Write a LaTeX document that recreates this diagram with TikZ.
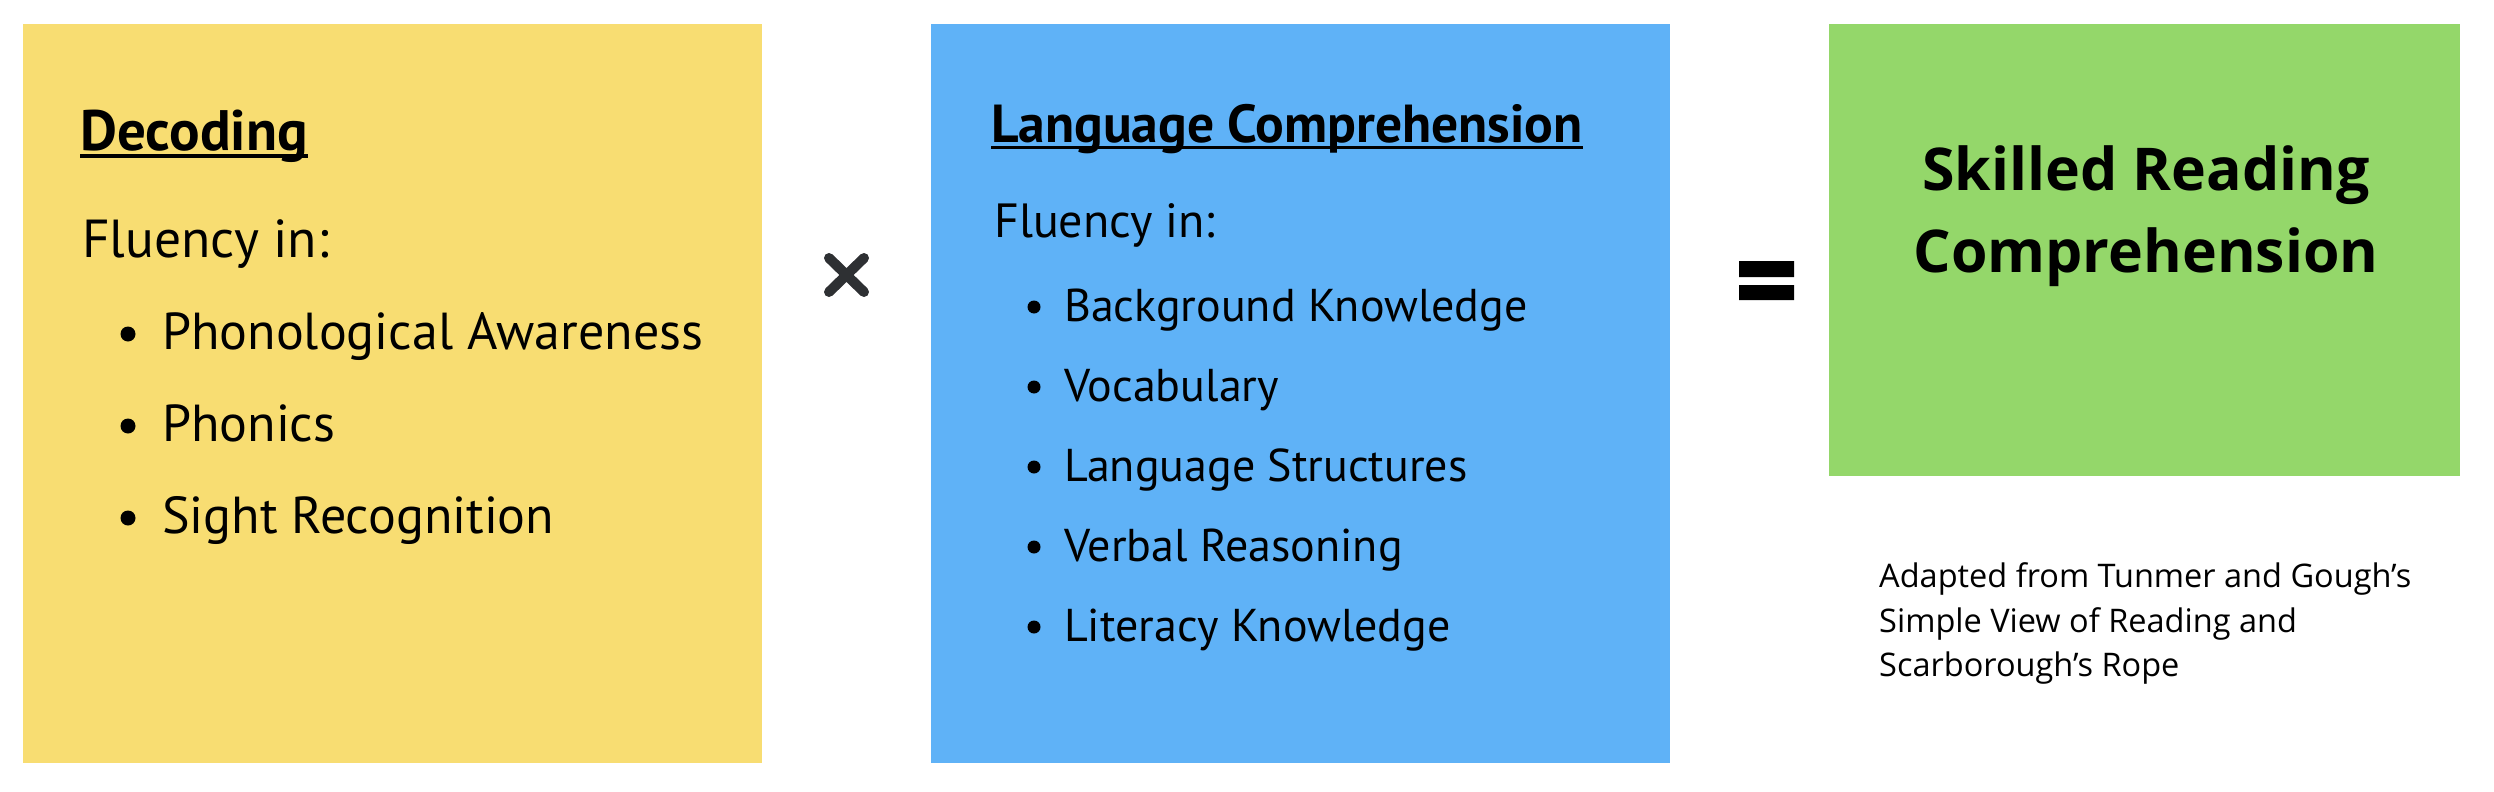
\documentclass[tikz,border=0pt]{standalone}
\usepackage{fontspec}
\setmainfont{PT Sans}
\newfontfamily\plainsans{Open Sans}

\definecolor{decYellow}{HTML}{F8DD72}
\definecolor{langBlue}{HTML}{5FB2F7}
\definecolor{readGreen}{HTML}{94D76A}
\definecolor{signGray}{HTML}{2E3033}

\begin{document}
\begin{tikzpicture}[x=1pt,y=-1pt,
    panel/.style={inner sep=0pt, anchor=north west, minimum width=739pt, minimum height=739pt},
    txt/.style={inner sep=0pt, anchor=base west}]
    \useasboundingbox (0,0) rectangle (2494,792);

    % the three boxes
    \node[panel, fill=decYellow] (decoding) at (23,24) {};
    \node[panel, fill=langBlue] (language) at (931,24) {};
    \node[panel, fill=readGreen, minimum width=631pt, minimum height=452pt] (reading) at (1829,24) {};

    % decoding
    \node[txt, font=\bfseries\fontsize{57}{60}\selectfont] (decHead) at (80,150) {Decoding};
    \draw[line width=4.5pt] ([yshift=-6pt]decHead.base west) -- ([yshift=-6pt]decHead.base east);
    \node[txt, font=\fontsize{53.5}{60}\selectfont] (decFluency) at (82,257) {Fluency in:};
    \foreach \item [count=\i] in {Phonological Awareness, Phonics, Sight Recognition}{
      \fill (128,{257+92*\i-15}) circle (7.5);
      \node[txt, font=\fontsize{52}{60}\selectfont] (dec\i) at (162,{257+92*\i}) {\item};
    }

    % language comprehension
    \node[txt, font=\bfseries\fontsize{53.5}{60}\selectfont] (langHead) at (991,142) {Language Comprehension};
    \draw[line width=3.5pt] ([yshift=-5.5pt]langHead.base west) -- ([yshift=-5.5pt]langHead.base east);
    \node[txt, font=\fontsize{48}{50}\selectfont] (langFluency) at (994,237) {Fluency in:};
    \foreach \item [count=\i] in {Background Knowledge, Vocabulary, Language Structures,
                                  Verbal Reasoning, Literacy Knowledge}{
      \fill (1034,{241+80*\i-14}) circle (6.5);
      \node[txt, font=\fontsize{46}{50}\selectfont] (lang\i) at (1064,{241+80*\i}) {\item};
    }

    % times and equals
    \draw[signGray, line width=10pt, line cap=round] (829,258) -- (864,292) (864,258) -- (829,292);
    \fill (1739,261) rectangle (1794,277) (1739,285) rectangle (1794,300);

    % skilled reading
    \node[inner sep=0pt, anchor=base, font=\plainsans\bfseries\fontsize{59}{70}\selectfont] (skilled) at (2146,190) {Skilled Reading};
    \node[inner sep=0pt, anchor=base, font=\plainsans\bfseries\fontsize{59}{70}\selectfont] (compr) at (2146,272) {Comprehension};

    % source note
    \foreach \line [count=\i] in {Adapted from Tunmer and Gough’s, Simple View of Reading and, Scarborough’s Rope}{
      \node[txt, font=\plainsans\fontsize{32.5}{44}\selectfont] (note\i) at (1879,{543+44.5*\i}) {\line};
    }
\end{tikzpicture}
\end{document}
